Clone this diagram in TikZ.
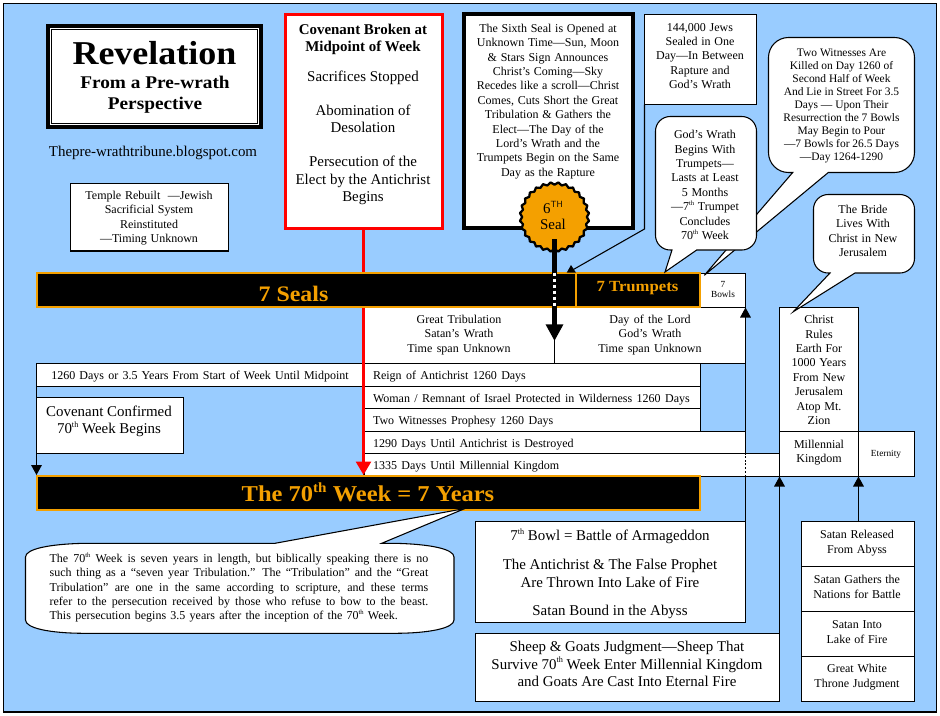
\documentclass[tikz,border=0pt]{standalone}
\usepackage{fontspec}
\setmainfont{Liberation Serif}
\newfontfamily\wb[FakeStretch=1.08]{Liberation Serif}
\usetikzlibrary{arrows.meta,shapes.geometric}
\definecolor{skyb}{HTML}{99CCFF}
\definecolor{amber}{HTML}{F4A000}
\definecolor{redl}{HTML}{FF0000}
\newcommand\supth{\raisebox{.42em}{\scalebox{.55}{th}}}
\newcommand\bx[6][]{\node[boxs,#1,minimum width={(#5-#3)*.75pt},minimum height={(#6-#4)*.75pt}] (#2) at ({(#3+#5)/2},{(#4+#6)/2}) {};}
\newcommand\tx[5][]{\node[txt,#1] (#2) at (#3,#4) {#5};}
% callout: x1 y1 x2 y2 radius(pt) tailleft tipx tipy tailright
\newcommand\callout[9]{\draw[calls,rounded corners=#5pt] ({(#1+#3)/2},#2) -- (#3,#2) -- (#3,#4) [sharp corners] -- (#9,#4) -- (#7,#8) -- (#6,#4) [rounded corners=#5pt] -- (#1,#4) -- (#1,#2) -- cycle;}
\tikzset{
 boxs/.style={draw=black,fill=white,line width=.8pt,inner sep=0,outer sep=0},
 calls/.style={draw=black,fill=white,line width=.8pt},
 txt/.style={inner sep=0,outer sep=0,align=center,text=black,font=\fontsize{9}{10.8}\selectfont\spaceskip 2.8pt\relax},
 small/.style={font=\fontsize{8.6}{9.8}\selectfont},
 wide9/.style={font=\fontsize{9}{10.8}\selectfont\spaceskip 3.3pt\relax},
 mid/.style={font=\fontsize{11.2}{13.1}\selectfont},
 tiny7/.style={font=\fontsize{7}{8.2}\selectfont},
 barbox/.style={boxs,draw=amber,fill=black,line width=1.5pt},
 bartext/.style={txt,text=amber},
 plainline/.style={draw=black,line width=.8pt},
 arrowline/.style={plainline,-{Triangle[length=7.5pt,width=8pt]}},
 rowtext/.style={txt,wide9,anchor=west}
}
\begin{document}
\begin{tikzpicture}[x=.75pt,y=-.75pt]
\useasboundingbox (0,0) rectangle (940,715);
\path[fill=skyb,draw=black,line width=.8pt] (3.5,3.5) rectangle (936.5,712);

% title
\bx[draw=none,fill=black]{titleouter}{46}{24}{263}{129}
\bx[draw=none,fill=white]{titlegap}{50}{28}{259}{125}
\bx[line width=.6pt]{titleinner}{51.5}{29.5}{257.5}{123.5}
\tx[font=\wb\bfseries\fontsize{25}{30}\selectfont]{titlea}{154.5}{53}{Revelation}
\tx[font=\wb\bfseries\fontsize{13.4}{15.8}\selectfont]{titleb}{155}{94.5}{From a Pre-wrath\\Perspective}
\tx[font=\fontsize{11.2}{13}\selectfont]{site}{153}{152.5}{Thepre-wrathtribune.blogspot.com}

% temple
\bx{temple}{70.5}{183.5}{228.5}{251}
\tx{templet}{149}{218}{Temple Rebuilt\ \ ---Jewish\\Sacrificial System\\Reinstituted\\---Timing Unknown}

% red box
\bx[draw=redl,line width=2.25pt]{redbox}{285}{14.5}{442}{228.5}
\tx[mid]{redt}{363}{114.5}{\textbf{Covenant Broken at}\\\textbf{Midpoint of Week}\\[8.75pt]Sacrifices Stopped\\[12.5pt]Abomination of\\Desolation\\[12.5pt]Persecution of the\\Elect by the Antichrist\\Begins}

% rows (upper)
\bx{greattrib}{364}{307.5}{554.5}{363.5}
\tx[wide9]{greattribt}{459}{335}{Great Tribulation\\Satan's Wrath\\Time span Unknown}
\bx{daylord}{554.5}{307.5}{745.5}{363.5}
\tx[wide9]{daylordt}{650}{335}{Day of the Lord\\God's Wrath\\Time span Unknown}
\bx{row1260}{36.5}{363.5}{364}{386.5}
\tx[wide9,font=\fontsize{9}{10.8}\selectfont\spaceskip 3.15pt\relax]{row1260t}{200}{376.5}{1260 Days or 3.5 Years From Start of Week Until Midpoint}
\bx{reign}{364}{363.5}{700.5}{386.5}
\tx[rowtext]{reignt}{373}{376.5}{Reign of Antichrist 1260 Days}
\bx{woman}{364}{386.5}{700.5}{408.5}
\tx[rowtext]{womant}{373}{399.5}{Woman / Remnant of Israel Protected in Wilderness 1260 Days}
\bx{twowit}{364}{408.5}{700.5}{431.5}
\tx[rowtext]{twowitt}{373}{421.5}{Two Witnesses Prophesy 1260 Days}
\bx{days1290}{364}{431.5}{745.5}{453.5}
\tx[rowtext]{days1290t}{373}{444.5}{1290 Days Until Antichrist is Destroyed}
\bx{days1335}{364}{453.5}{779.5}{476.5}
\tx[rowtext]{days1335t}{373}{466.5}{1335 Days Until Millennial Kingdom}

\bx{covenant}{36.5}{397.5}{183.5}{453.5}
\tx[mid]{covenantt}{109}{421.5}{Covenant Confirmed\\70\supth\ Week Begins}

% sixth seal box
\bx[line width=3pt]{sealbox}{464}{14}{633}{228}
\tx{sealboxt}{548}{101.5}{The Sixth Seal is Opened at\\Unknown Time---Sun, Moon\\\& Stars Sign Announces\\Christ's Coming---Sky\\Recedes like a scroll---Christ\\Comes, Cuts Short the Great\\Tribulation \& Gathers the\\Elect---The Day of the\\Lord's Wrath and the\\Trumpets Begin on the Same\\Day as the Rapture}

% 144000
\bx{jews}{644.5}{14.5}{756.5}{104.5}
\tx{jewst}{700}{56}{144,000 Jews\\Sealed in One\\Day---In Between\\Rapture and\\God's Wrath}
\coordinate (jewsbend) at (644.5,229);
\coordinate (jewsend) at (572.5,270);
\draw[plainline] (jews.south west) -- (jewsbend) -- (jewsend);

% right column
\bx{christ}{779.5}{307.5}{858.5}{431.5}
\tx{christt}{819}{370}{Christ\\Rules\\Earth For\\1000 Years\\From New\\Jerusalem\\Atop Mt.\\Zion}
\bx{mill}{779.5}{431.5}{858.5}{476.5}
\tx{millt}{819}{452.5}{Millennial\\Kingdom}
\bx{eternity}{858.5}{431.5}{914.5}{476.5}
\tx[tiny7]{eternityt}{886}{454}{Eternity}

% bowls
\bx{bowls}{700.5}{273.5}{745.5}{307.5}
\tx[tiny7]{bowlst}{723}{289.5}{7\\Bowls}

% red connector, below the bars
\draw[draw=redl,line width=2.25pt,-{Triangle[length=10pt,width=11pt]}] (redbox.south) -- (redbox.south |- 0,475) coordinate (redend);

% bars
\bx[barbox]{sevenseals}{36.5}{273}{576}{306.5}
\tx[bartext,font=\wb\bfseries\fontsize{16.6}{20}\selectfont]{sevensealst}{293.5}{294}{7 Seals}
\bx[barbox]{trumpets}{576}{273}{700}{306.5}
\tx[bartext,font=\wb\bfseries\fontsize{11.6}{15}\selectfont]{trumpetst}{637.5}{288}{7 Trumpets}
\bx[barbox]{week}{36.5}{476}{700}{509.5}
\tx[bartext,font=\wb\bfseries\fontsize{17}{20}\selectfont]{weekt}{368}{492.5}{The 70\raisebox{.4em}{\scalebox{.62}{th}} Week = 7 Years}

% connector: left
\coordinate (leftstart) at (36.5,386.5);
\draw[arrowline] (leftstart) -- (36.5,475) coordinate (leftend);

% seal
\node[star,star points=28,star point ratio=.93,minimum size=48.5pt,fill=amber,draw=black,line width=1.7pt,line join=round,inner sep=0] (seal) at (554.5,217) {};
\tx[mid,anchor=north]{sealt}{553}{201}{6\raisebox{.4em}{\scalebox{.6}{\sffamily TH}}\\[-.5pt]Seal}

% seal arrow
\coordinate (sealstart) at (554.5,239);
\coordinate (sealarrow) at (554.5,341);
\draw[line width=3.75pt,-{Triangle[length=12.5pt,width=12.5pt]}] (sealstart) -- (sealarrow);
\draw[draw=white,line width=2.25pt,dash pattern=on 2.25pt off 2.25pt] (554.5,272.5) -- (554.5,307);

% triangle of the 144000 leader
\fill (jewsend) ++(-1.5,-5) -- (566.7,272.7) -- (576,272.7) -- cycle;

% callouts
\callout{768.5}{37.5}{914.5}{172.5}{15}{792.7}{704.3}{275.3}{828.3}
\tx[small]{twot}{841.5}{106}{Two Witnesses Are\\Killed on Day 1260 of\\Second Half of Week\\And Lie in Street For 3.5\\Days --- Upon Their\\Resurrection the 7 Bowls\\May Begin to Pour\\---7 Bowls for 26.5 Days\\---Day 1264-1290}
\callout{655.5}{116.5}{756.5}{250}{11}{672}{665}{272}{696.7}
\tx{wratht}{705}{185}{God's Wrath\\Begins With\\Trumpets---\\Lasts at Least\\5 Months\\---7\supth\ Trumpet\\Concludes\\70\supth\ Week}
\callout{813.5}{194.5}{914.5}{273}{11}{830}{793.3}{311.7}{855}
\tx{bridet}{863}{231}{The Bride\\Lives With\\Christ in New\\Jerusalem}

% lower connectors
\bx{bowlseven}{475.5}{521.5}{745.5}{622.5}
\tx[mid]{bowlsevent}{610}{574}{7\supth\ Bowl = Battle of Armageddon\\[8.5pt]The Antichrist \& The False Prophet\\Are Thrown Into Lake of Fire\\[8.5pt]Satan Bound in the Abyss}
\bx{sheep}{475.5}{633.5}{779.5}{701.5}
\tx[mid]{sheept}{627}{664}{Sheep \& Goats Judgment---Sheep That\\Survive 70\supth\ Week Enter Millennial Kingdom\\and Goats Are Cast Into Eternal Fire}
\bx{sata}{801.5}{521.5}{914.5}{566.5}
\tx{satat}{857}{543}{Satan Released\\From Abyss}
\bx{satb}{801.5}{566.5}{914.5}{611.5}
\tx{satbt}{857}{587}{Satan Gathers the\\Nations for Battle}
\bx{satc}{801.5}{611.5}{914.5}{656.5}
\tx{satct}{857}{632}{Satan Into\\Lake of Fire}
\bx{satd}{801.5}{656.5}{914.5}{701.5}
\tx{satdt}{857}{677}{Great White\\Throne Judgment}

% the line from the seventh bowl box up to the bowls: solid, dotted over the last row, solid
\draw[plainline] (bowlseven.north east) -- (days1335.south -| bowlseven.north east) coordinate (dotlow);
\draw[draw=white,line width=1pt] (days1335.south -| dotlow) -- (days1335.north -| dotlow) coordinate (dottop);
\draw[draw=black,line width=1.3pt,dash pattern=on 1.4pt off 1.4pt] (dotlow) -- (dottop);
\draw[arrowline] (dottop) -- (bowls.south east);
\draw[arrowline] (sheep.north east) -- (mill.south west);
\coordinate (satup) at (858.5,521.5);
\draw[arrowline] (satup) -- (eternity.south west);

% large callout
\draw[calls] (275,543.3) -- (465,508.5) -- (381.7,543.3) -- (394,543.3) .. controls (430,544) and (454,549) .. (454,557) -- (454,620) .. controls (454,628) and (430,633.3) .. (394,633.3) -- (85,633.3) .. controls (49,633.3) and (25.5,628) .. (25.5,620) -- (25.5,557) .. controls (25.5,549) and (49,544) .. (85,543.3) -- cycle;
\tx[align=left,font=\fontsize{9}{10.8}\selectfont\spaceskip 3.2pt plus 3pt minus 1pt\relax]{notet}{239}{587.5}{%
\makebox[284pt][s]{The 70\supth\ Week is seven years in length, but biblically speaking there is no}\\
\makebox[284pt][s]{such thing as a ``seven year Tribulation.'' The ``Tribulation'' and the ``Great}\\
\makebox[284pt][s]{Tribulation'' are one in the same according to scripture, and these terms}\\
\makebox[284pt][s]{refer to the persecution received by those who refuse to bow to the beast.}\\
This persecution begins 3.5 years after the inception of the 70\supth\ Week.}
\end{tikzpicture}
\end{document}
